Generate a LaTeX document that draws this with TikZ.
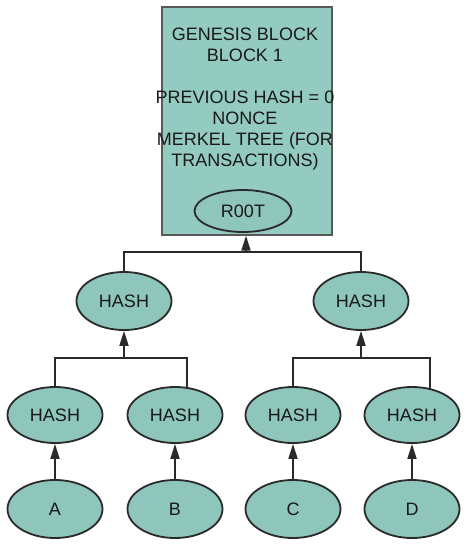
\documentclass[tikz,border=0pt]{standalone}
\usepackage{fontspec}
\setmainfont{Liberation Sans}
\usetikzlibrary{arrows.meta,backgrounds,shapes.geometric}
\definecolor{boxfill}{HTML}{93CBC1}
\definecolor{ellfill}{HTML}{8EC6BC}
\definecolor{edgecol}{HTML}{2A2A2A}
\begin{document}
\begin{tikzpicture}[x=1pt,y=-1pt,
  every node/.style={font=\fontsize{18}{21}\selectfont, text=black!90},
  oval/.style={ellipse, draw=edgecol, line width=1.8pt, fill=ellfill, inner sep=0pt, minimum width=95pt, minimum height=57pt},
  blockbox/.style={rectangle, draw=black!65, line width=1.3pt, fill=boxfill, inner sep=0pt, minimum width=170pt, minimum height=228pt},
  link/.style={draw=edgecol, line width=1.8pt},
  arr/.style={link, -{Triangle[length=15pt,width=9pt]}}]
\useasboundingbox (0,0) rectangle (474,544);
% genesis block
\node[blockbox] (blk) at (247,121) {};
\node[anchor=north, align=center, inner sep=0pt] (gtext) at (245,28)
  {GENESIS BLOCK\\BLOCK 1\\[21pt]PREVIOUS HASH = 0\\NONCE\\MERKEL TREE (FOR\\TRANSACTIONS)};
\node[oval, minimum width=97pt, minimum height=42pt] (root) at (243,211) {R00T};
% level 2
\node[oval, minimum height=58pt] (m1) at (124,301) {HASH};
\node[oval, minimum height=58pt] (m2) at (361,301) {HASH};
% level 3
\node[oval, minimum height=56pt] (h1) at (55,415) {HASH};
\node[oval, minimum height=56pt] (h2) at (175,415) {HASH};
\node[oval, minimum height=56pt] (h3) at (293,415) {HASH};
\node[oval, minimum height=56pt] (h4) at (412,415) {HASH};
% leaves
\node[oval, minimum height=58pt] (a) at (55,509) {A};
\node[oval, minimum height=58pt] (b) at (175,509) {B};
\node[oval, minimum height=58pt] (c) at (293,509) {C};
\node[oval, minimum height=58pt] (d) at (412,509) {D};
% junctions
\coordinate (j0) at (246,252);
\coordinate (j1) at (124,358);
\coordinate (j2) at (361,358);
\begin{scope}[on background layer]
  \fill[white] (0,0) rectangle (474,544);
  \draw[link] (m1.center) |- (j0) -| (m2.center);
  \draw[link] (h1.center) |- (j1) -| ([xshift=12pt]h2.center);
  \draw[link] (h3.center) |- (j2) -| ([xshift=18pt]h4.center);
\end{scope}
\draw[arr] (j0) -- (j0 |- blk.south);
\draw[arr] (j1) -- (m1);
\draw[arr] (j2) -- (m2);
\draw[arr] (a) -- (h1);
\draw[arr] (b) -- (h2);
\draw[arr] (c) -- (h3);
\draw[arr] (d) -- (h4);
\end{tikzpicture}
\end{document}
